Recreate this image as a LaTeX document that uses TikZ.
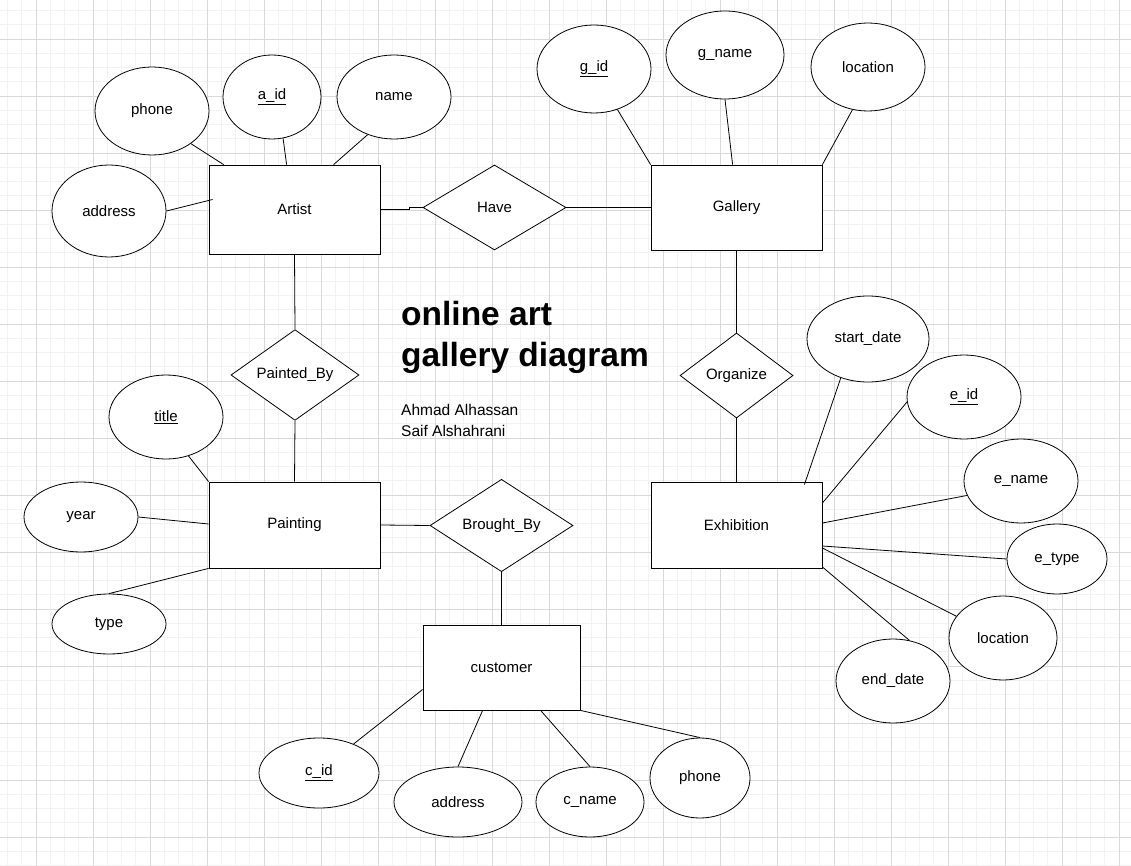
\documentclass[tikz,border=0pt]{standalone}
\usepackage{fontspec}
\setmainfont{Liberation Sans}
\usetikzlibrary{shapes.geometric,calc}
\begin{document}
\begin{tikzpicture}[x=1pt,y=-1pt,
  ent/.style={draw,thick,rectangle,minimum width=171pt,minimum height=86pt,inner sep=0pt,fill=white},
  rel/.style={draw,thick,diamond,inner sep=0pt,fill=white},
  att/.style={draw,thick,ellipse,inner sep=0pt,fill=white},
  every node/.style={font=\fontsize{15}{18}\selectfont},
  ln/.style={thick}]
\fill[white] (0,0) rectangle (1131,866);
\useasboundingbox (0,0) rectangle (1131,866);
\foreach \i in {0,...,80} {\draw[black!5,line width=0.8pt] ({-21+14.25*\i},0) -- ({-21+14.25*\i},866);}
\foreach \i in {0,...,62} {\draw[black!5,line width=0.8pt] (0,{-18+14.25*\i}) -- (1131,{-18+14.25*\i});}
\foreach \i in {0,...,20} {\draw[black!15,line width=0.8pt] ({-21+57*\i},0) -- ({-21+57*\i},866);}
\foreach \i in {0,...,16} {\draw[black!15,line width=0.8pt] (0,{-18+57*\i}) -- (1131,{-18+57*\i});}
% entities
\node[ent,minimum height=89pt] (ar) at (294.5,209.5) {Artist};
\node[ent,minimum height=85pt] (ga) at (736.5,207.5) {Gallery};
\node[ent] (pa) at (294.5,525) {Painting};
\node[ent] (ex) at (736.5,525) {Exhibition};
\node[ent,minimum width=157pt,minimum height=85pt] (cu) at (501.5,667.5) {customer};
% relations
\node[rel,minimum width=143pt,minimum height=85pt] (hv) at (494.5,207.5) {Have};
\node[rel,minimum width=128pt,minimum height=70pt] (pb) at (295,375) {Painted\_By};
\node[rel,minimum width=113pt,minimum height=85pt] (og) at (736.5,375.5) {Organize};
\node[rel,minimum width=143pt,minimum height=85pt] (bb) at (501.5,525.5) {Brought\_By};
% attributes
\node[att,minimum width=114pt,minimum height=88pt] (aph) at (152,111) {phone};
\node[att,minimum width=98pt,minimum height=84pt] (aid) at (272,97) {\underline{a\_id}};
\node[att,minimum width=114pt,minimum height=84pt] (anm) at (394,97) {name};
\node[att,minimum width=114pt,minimum height=92pt] (aad) at (109,211) {address};
\node[att,minimum width=114pt,minimum height=88pt] (gid) at (594,69) {\underline{g\_id}};
\node[att,minimum width=118pt,minimum height=88pt] (gnm) at (725,55) {g\_name};
\node[att,minimum width=114pt,minimum height=88pt] (glo) at (868,67) {location};
\node[att,minimum width=122pt,minimum height=86pt] (esd) at (868,339) {start\_date};
\node[att,minimum width=114pt,minimum height=84pt] (eid) at (964,397) {\underline{e\_id}};
\node[att,minimum width=114pt,minimum height=84pt] (enm) at (1021,481) {e\_name};
\node[att,minimum width=100pt,minimum height=70pt] (ety) at (1057,559) {e\_type};
\node[att,minimum width=108pt,minimum height=84pt] (elo) at (1003,638) {location};
\node[att,minimum width=114pt,minimum height=84pt] (eed) at (893,681) {end\_date};
\node[att,minimum width=114pt,minimum height=84pt] (pti) at (166,417) {\underline{title}};
\node[att,minimum width=114pt,minimum height=70pt] (pye) at (81,517) {year};
\node[att,minimum width=114pt,minimum height=60pt] (pty) at (109,624) {type};
\node[att,minimum width=120pt,minimum height=70pt] (cid) at (319,773) {\underline{c\_id}};
\node[att,minimum width=128pt,minimum height=70pt] (cad) at (458,802) {address};
\node[att,minimum width=108pt,minimum height=70pt] (cnm) at (590,802) {c\_name};
\node[att,minimum width=100pt,minimum height=80pt] (cph) at (700,778) {phone};
% title
\node[anchor=north west,align=left,inner sep=0pt,font=\fontsize{33.5}{41}\selectfont\bfseries] (tt) at (401,301) {online art\\gallery diagram};
\node[anchor=north west,align=left,inner sep=0pt,font=\fontsize{15.5}{21}\selectfont] (au) at (401,404) {Ahmad Alhassan\\Saif Alshahrani};
% connectors
\begin{scope}[ln]
\draw (aph.320) -- ($(ar.north west)+(15,0)$);
\draw (aid.285) -- ($(ar.north west)+(78,0)$);
\draw (anm.235) -- ($(ar.north west)+(125,0)$);
\draw (aad.east) -- ($(ar.west)+(4,-10)$);
\draw (ar.east) -- ++(29,0) -- ++(0,-2) -- (hv.west);
\draw (hv.east) -- (ga.west);
\draw (gid.300) -- (ga.north west);
\draw (gnm.270) -- ($(ga.north west)+(82,0)$);
\draw (glo.250) -- (ga.north east);
\draw (ar.south) -- (pb.north);
\draw (pb.south) -- (pa.north);
\draw (ga.south) -- (og.north);
\draw (og.south) -- (ex.north);
\draw (pti.300) -- (pa.north west);
\draw (pye.east) -- ($(pa.west)+(0,-1)$);
\draw (pty.90) -- (pa.south west);
\draw (pa.east) -- (bb.west);
\draw (bb.south) -- (cu.north);
\draw (cid.40) -- ($(cu.west)+(0,22)$);
\draw (cad.90) -- ($(cu.south west)+(60,0)$);
\draw (cnm.90) -- ($(cu.south west)+(118,0)$);
\draw (cph.90) -- (cu.south east);
\draw (esd.235) -- ($(ex.north east)+(-18,3)$);
\draw (eid.185) -- ($(ex.east)+(0,-22)$);
\draw (enm.195) -- ($(ex.east)+(0,-2)$);
\draw (ety.west) -- ($(ex.east)+(0,21)$);
\draw (elo.155) -- ($(ex.east)+(0,23)$);
\draw (eed.68) -- ($(ex.east)+(0,42)$);
\end{scope}
\end{tikzpicture}
\end{document}
